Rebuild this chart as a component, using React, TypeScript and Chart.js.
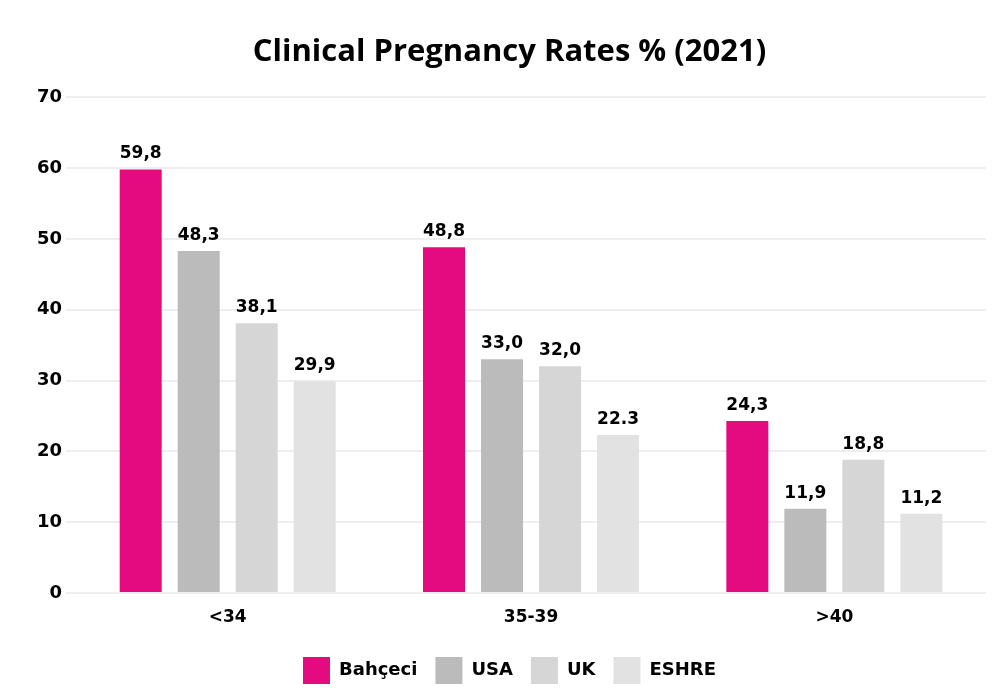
import React, { useEffect, useRef } from "react";
import { Chart, registerables } from "chart.js";

Chart.register(...registerables);

const categories = ["<34", "35-39", ">40"];
const seriesNames = ["Bahçeci", "USA", "UK", "ESHRE"];
const bahceci = [59.8, 48.8, 24.3];
const usa = [48.3, 33.0, 11.9];
const uk = [38.1, 32.0, 18.8];
const eshre = [29.9, 22.3, 11.2];
const bahceciLabels = ["59,8", "48,8", "24,3"];
const usaLabels = ["48,3", "33,0", "11,9"];
const ukLabels = ["38,1", "32,0", "18,8"];
const eshreLabels = ["29,9", "22.3", "11,2"];
const yTicks = [0, 10, 20, 30, 40, 50, 60, 70];

const colors = ["#E30B7F", "#BBBBBB", "#D6D6D6", "#E2E2E2"];
const FONT = "'DejaVu Sans', sans-serif";

const valueLabelPlugin = {
  id: "valueLabels",
  afterDatasetsDraw(chart: any) {
    const ctx = chart.ctx;
    const allLabels = [bahceciLabels, usaLabels, ukLabels, eshreLabels];
    ctx.save();
    ctx.font = `bold 17px ${FONT}`;
    ctx.fillStyle = "#000";
    ctx.textAlign = "center";
    ctx.textBaseline = "bottom";
    chart.data.datasets.forEach((_ds: any, di: number) => {
      const meta = chart.getDatasetMeta(di);
      meta.data.forEach((el: any, i: number) => {
        ctx.fillText(allLabels[di][i], el.x, el.y - 7);
      });
    });
    ctx.restore();
  },
};

export default function App() {
  const ref = useRef<HTMLCanvasElement | null>(null);

  useEffect(() => {
    if (!ref.current) return;
    const values = [bahceci, usa, uk, eshre];
    const chart = new Chart(ref.current, {
      type: "bar",
      data: {
        labels: categories,
        datasets: seriesNames.map((name, i) => ({
          label: name,
          data: values[i],
          backgroundColor: colors[i],
          borderWidth: 0,
          categoryPercentage: 0.765,
          barPercentage: 0.724,
        })),
      },
      options: {
        animation: false,
        responsive: false,
        devicePixelRatio: 1,
        layout: { padding: { left: 33, right: 10, top: 0, bottom: 3 } },
        plugins: {
          title: {
            display: true,
            text: "Clinical Pregnancy Rates % (2021)",
            color: "#000",
            font: { family: "'Open Sans', sans-serif", size: 31, weight: "bold" },
            padding: { top: 34, bottom: 26 },
          },
          legend: {
            position: "bottom",
            labels: {
              boxWidth: 27,
              boxHeight: 27,
              padding: 18,
              color: "#000",
              font: { family: FONT, size: 18, weight: "bold" },
            },
          },
          tooltip: { enabled: false },
        },
        scales: {
          x: {
            grid: { display: false, drawTicks: false },
            border: { display: false },
            ticks: {
              color: "#000",
              padding: 14,
              font: { family: FONT, size: 17, weight: "bold" },
            },
            afterFit: (scale: any) => {
              scale.height = 46;
            },
          },
          y: {
            min: 0,
            max: 70,
            afterBuildTicks: (scale: any) => {
              scale.ticks = yTicks.map((v) => ({ value: v }));
            },
            grid: { color: "#EEEEEE", lineWidth: 2, tickLength: 10 },
            border: { display: false },
            ticks: {
              color: "#000",
              padding: 4,
              font: { family: FONT, size: 18, weight: "bold" },
            },
          },
        },
      },
      plugins: [valueLabelPlugin],
    });
    return () => chart.destroy();
  }, []);

  return (
    <>
      <style>{"body{margin:0;background:#fff}"}</style>
      <canvas ref={ref} width={996} height={697} style={{ display: "block" }} />
    </>
  );
}
